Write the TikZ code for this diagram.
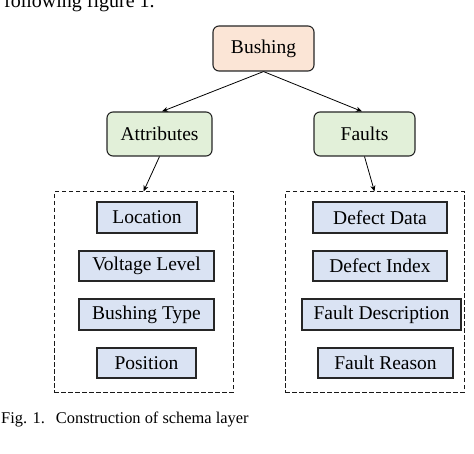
\documentclass[tikz,border=0pt]{standalone}
\usepackage{fontspec}
\setmainfont{Liberation Serif}
\usetikzlibrary{arrows.meta}
\definecolor{peach}{HTML}{FBE5D6}
\definecolor{lgreen}{HTML}{E2F0D9}
\definecolor{lblue}{HTML}{DAE3F3}
\tikzset{
  topbox/.style={draw=black!85, line width=1.1pt, rounded corners=6pt, inner sep=0pt, font=\fontsize{19.5}{22}\selectfont},
  itembox/.style={draw=black!85, line width=1.3pt, fill=lblue, inner sep=0pt, font=\fontsize{19.5}{22}\selectfont},
  groupbox/.style={draw=black!90, line width=1pt, dash pattern=on 4.5pt off 2.5pt, inner sep=0pt},
  conn/.style={line width=0.8pt, -{Stealth[length=6pt,width=5pt]}},
}
\begin{document}
\begin{tikzpicture}[x=1pt,y=-1pt]
\useasboundingbox (0,0) rectangle (474,454);
\clip (0,0) rectangle (474,454);
\node[anchor=base west, inner sep=0pt, font=\fontsize{20}{24}\selectfont] (prev) at (4,8) {following figure 1.};
\node[topbox, fill=peach, minimum width=101pt, minimum height=45pt] (bushing) at (263.5,48.5) {Bushing};
\node[topbox, fill=lgreen, minimum width=105pt, minimum height=44pt] (attr) at (159.5,134) {Attributes};
\node[topbox, fill=lgreen, minimum width=101pt, minimum height=44pt] (faults) at (364.5,134) {Faults};
\node[groupbox, minimum width=179pt, minimum height=200pt] (agroup) at (143.5,292) {};
\node[groupbox, minimum width=179pt, minimum height=200pt] (fgroup) at (374.5,292) {};
\node[itembox, minimum width=100pt, minimum height=31pt] (loc) at (147,217.5) {Location};
\node[itembox, minimum width=135pt, minimum height=30pt] (volt) at (146.5,266) {Voltage Level};
\node[itembox, minimum width=135pt, minimum height=31pt] (btype) at (146.5,314.5) {Bushing Type};
\node[itembox, minimum width=99pt, minimum height=30pt] (pos) at (146.5,363) {Position};
\node[itembox, minimum width=134pt, minimum height=31pt] (ddata) at (380,217.5) {Defect Data};
\node[itembox, minimum width=134pt, minimum height=30pt] (dindex) at (380,266) {Defect Index};
\node[itembox, minimum width=159pt, minimum height=31pt] (fdesc) at (381.5,314.5) {Fault Description};
\node[itembox, minimum width=135pt, minimum height=30pt] (freason) at (385.5,363) {Fault Reason};
\draw[conn] (bushing.south) -- ([xshift=2.5pt]attr.north);
\draw[conn] (bushing.south) -- ([xshift=-2.5pt]faults.north);
\draw[conn] (attr.south) -- (agroup.north);
\draw[conn] (faults.south) -- (fgroup.north);
\node[anchor=base west, inner sep=0pt, font=\fontsize{16.4}{20}\selectfont] (caption) at (1,423) {Fig. 1.\hspace*{11pt}Construction of schema layer};
\end{tikzpicture}
\end{document}
